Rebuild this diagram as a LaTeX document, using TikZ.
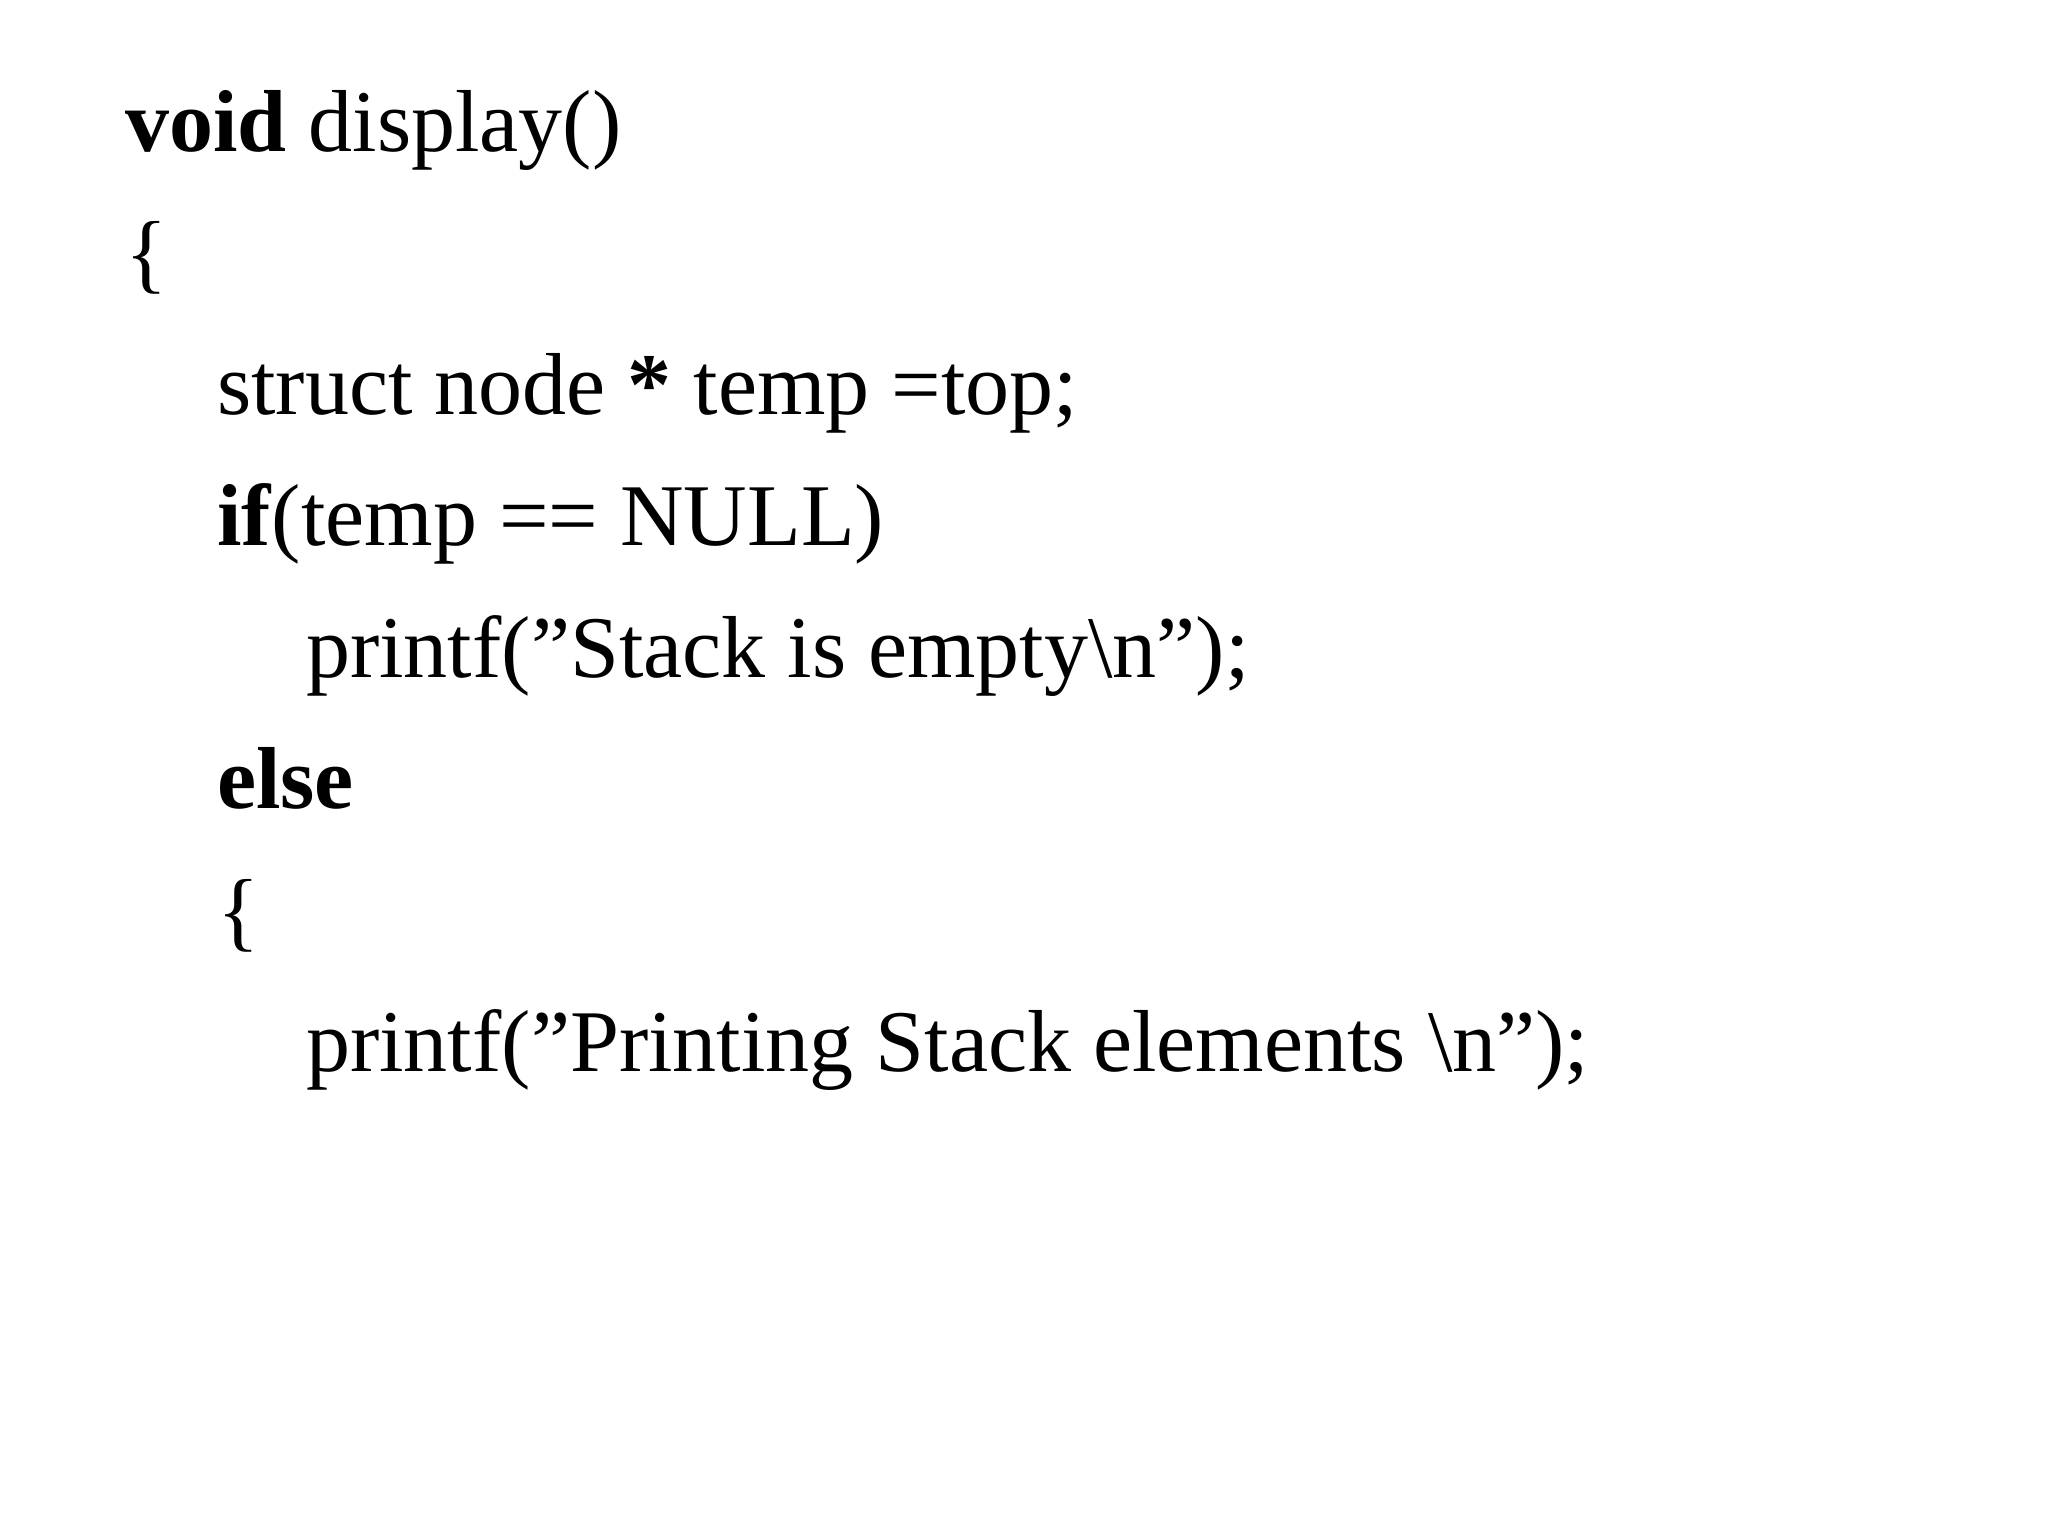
\documentclass[tikz,border=0pt]{standalone}
\usepackage{fontspec}
\setmainfont{Liberation Serif}
\begin{document}
\begin{tikzpicture}[x=1pt,y=-1pt]
\useasboundingbox[fill=white] (0,0) rectangle (2048,1536);
\tikzset{ln/.style={anchor=base west,inner sep=0pt,font=\fontsize{88}{100}\selectfont}}
\node[ln] (l1) at (125,151) {\textbf{void} display()};
\node[ln] (l2) at (125,282) {\{};
\node[ln] (l3) at (217,414) {struct node \textbf{*} temp =top;};
\node[ln] (l4) at (217,545) {\textbf{if}(temp == NULL)};
\node[ln] (l5) at (306,677) {printf("Stack is empty\textbackslash n");};
\node[ln] (l6) at (217,808) {\textbf{else}};
\node[ln] (l7) at (217,940) {\{};
\node[ln] (l8) at (306,1071) {printf("Printing Stack elements \textbackslash n");};
\end{tikzpicture}
\end{document}
